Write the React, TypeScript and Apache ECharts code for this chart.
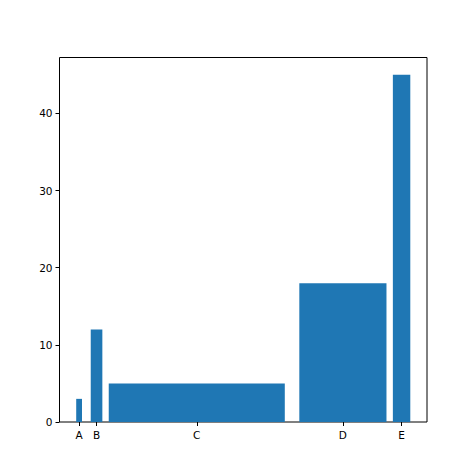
import { useEffect, useRef } from 'react';
import * as echarts from 'echarts';

// bar data (variable-width bars on a numeric x axis)
const categories = ['A', 'B', 'C', 'D', 'E'];
const values = [3, 12, 5, 18, 45];
const lefts = [0, 2.5, 5.6, 38.4, 54.5];
const widths = [1, 2, 30.3, 15, 3];

const yTicks = [0, 10, 20, 30, 40];

export default function App() {
  const chartRef = useRef<HTMLDivElement>(null);

  useEffect(() => {
    if (!chartRef.current) return;
    const chart = echarts.init(chartRef.current, undefined, { renderer: 'svg' });

    const centers = lefts.map((l, i) => l + widths[i] / 2);
    const xMin = lefts[0];
    const xMax = lefts[lefts.length - 1] + widths[widths.length - 1];
    const pad = (xMax - xMin) * 0.05;
    const yMax = Math.max(...values) * 1.05;

    const font = { fontFamily: 'DejaVu Sans', fontSize: 10.5, color: '#000' };

    const option: echarts.EChartsOption = {
      animation: false,
      backgroundColor: '#fff',
      grid: {
        left: 59.5,
        right: 47,
        top: 57.5,
        bottom: 52,
        show: true,
        borderColor: '#000',
        borderWidth: 1,
        backgroundColor: 'transparent',
      },
      xAxis: {
        type: 'value',
        min: xMin - pad,
        max: xMax + pad,
        splitLine: { show: false },
        axisLine: { show: false, onZero: false },
        axisTick: {
          show: true,
          customValues: centers,
          length: 4,
          lineStyle: { color: '#000', width: 1 },
        },
        axisLabel: {
          ...font,
          customValues: centers,
          margin: 7,
          formatter: (v: number) => {
            const idx = centers.findIndex((c) => Math.abs(c - v) < 1e-6);
            return idx >= 0 ? categories[idx] : '';
          },
        },
      },
      yAxis: {
        type: 'value',
        min: 0,
        max: yMax,
        interval: 10,
        splitLine: { show: false },
        axisLine: { show: false, onZero: false },
        axisTick: {
          show: true,
          customValues: yTicks,
          length: 4,
          lineStyle: { color: '#000', width: 1 },
        },
        axisLabel: {
          ...font,
          customValues: yTicks,
          margin: 7,
        },
      },
      series: [
        {
          type: 'custom',
          data: categories.map((_, i) => [lefts[i], lefts[i] + widths[i], values[i]]),
          encode: { x: [0, 1], y: 2 },
          renderItem: (params: any, api: any) => {
            const p0 = api.coord([api.value(0), api.value(2)]);
            const p1 = api.coord([api.value(1), 0]);
            return {
              type: 'rect',
              shape: { x: p0[0], y: p0[1], width: p1[0] - p0[0], height: p1[1] - p0[1] },
              style: { fill: '#1f77b4' },
            };
          },
        },
      ],
    };

    chart.setOption(option);
    return () => {
      chart.dispose();
    };
  }, []);

  return (
    <div
      ref={chartRef}
      style={{ position: 'fixed', left: 0, top: 0, width: 474, height: 474 }}
    />
  );
}
